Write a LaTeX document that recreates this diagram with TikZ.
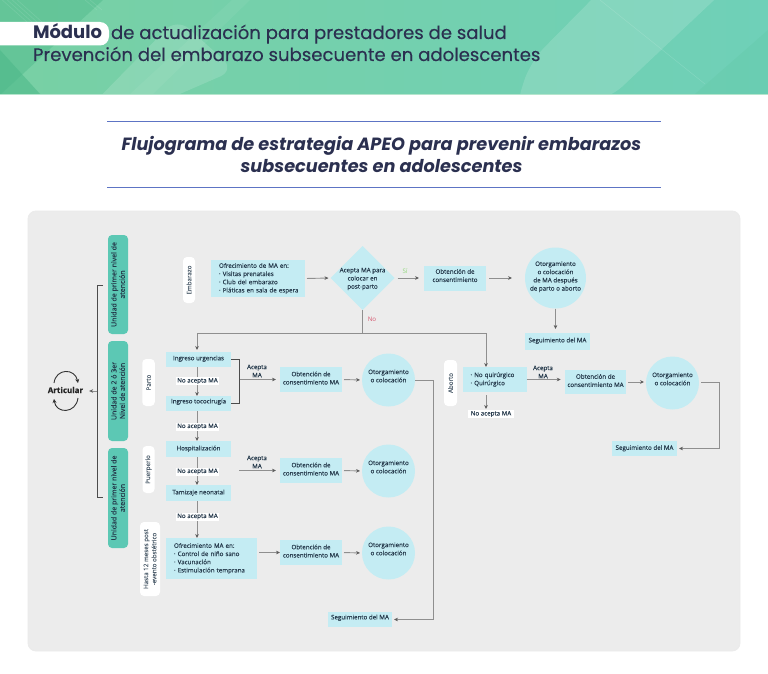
\documentclass[tikz,border=0pt]{standalone}
\usepackage{fontspec}
\setmainfont[FakeBold=0.12]{Open Sans}
\newfontfamily\pop{Poppins}
\newfontfamily\popm[FakeBold=0.25]{Poppins}
\newfontfamily\reg{Open Sans}
\usetikzlibrary{shapes.geometric,arrows.meta,calc}
\definecolor{ink}{HTML}{2B3050}
\definecolor{txt}{HTML}{24384A}
\definecolor{cya}{HTML}{C4ECF3}
\definecolor{tealb}{HTML}{5CC8B4}
\definecolor{panel}{HTML}{ECECEC}
\definecolor{rule}{HTML}{5D74C4}
\definecolor{ln}{HTML}{8F8F8F}
\definecolor{hdl}{HTML}{78D0A4}
\definecolor{hdr}{HTML}{6FD0B8}
\definecolor{hdk}{HTML}{4DB98A}
\definecolor{sicol}{HTML}{8FD87A}
\definecolor{nocol}{HTML}{D4566E}
\tikzset{
 every node/.style={inner sep=0pt,outer sep=0pt,text=txt,align=center,font=\fontsize{6.2}{8.2}\selectfont},
 bx/.style={fill=cya,minimum width=#1},
 bl/.style={fill=cya,align=left,text width=#1,inner xsep=8pt},
 circ/.style={circle,fill=cya,minimum size=#1},
 lab/.style={fill=white,minimum height=8pt,minimum width=#1},
 bar/.style={rotate=90,fill=tealb,rounded corners=4pt,minimum width=#1,minimum height=20pt,font=\fontsize{7}{8.4}\selectfont},
 pill/.style={rotate=90,fill=white,rounded corners=4pt,minimum width=#1,text=txt!80},
 arr/.style={draw=ln,line width=.9pt,-{Stealth[length=4pt,width=3.6pt,color=ln!65!black]}},
 lin/.style={draw=ln,line width=.9pt},
 brk/.style={draw=black!70,line width=.8pt},
 band/.style={fill=white,opacity=.14},
}
\begin{document}
\begin{tikzpicture}[x=1pt,y=-1pt]
\useasboundingbox (0,0) rectangle (768,674);
\fill[white] (0,0) rectangle (768,674);
% header
\begin{scope}
\clip (0,0) rectangle (768,94);
\shade[left color=hdl,right color=hdr] (0,0) rectangle (768,94);
\fill[hdk,opacity=.45] (0,0) -- (103,0) -- (0,95) -- cycle;
\fill[hdk,opacity=.6] (0,50) -- (40,94) -- (0,94) -- cycle;
\foreach \d in {0,5,10,15}{\draw[white,opacity=.1,line width=.7pt] (\d,-2) -- (\d+45,38);}
\foreach \d in {85,90}{\draw[white,opacity=.1,line width=.7pt] (\d,0) -- (\d+12,10);}
\fill[band,rounded corners=16pt] (87,110) -- (177,18) -- (235,70) -- (143,110) -- cycle;
\fill[white,opacity=.05] (130,94) -- (232,0) -- (250,0) -- (153,94) -- cycle;
\fill[band,rounded corners=20pt] (515,110) -- (530,62) -- (606,-15) -- (730,-15) -- (608,100) -- cycle;
\draw[white,opacity=.12,line width=.6pt] (600,0) -- (705,84);
\fill[hdk,opacity=.12] (695,94) -- (768,30) -- (768,94) -- cycle;
\end{scope}
\fill[hdl!55!white] (0,94) rectangle (768,95);
\fill[white,rounded corners=9pt] (-20,22) rectangle (109,45.5);
\node[anchor=base west,text=ink,font=\pop\fontsize{18}{22}\selectfont\bfseries] (modu) at (33,39) {Módulo};
\node[anchor=base west,text=ink,font=\popm\fontsize{18.1}{22}\selectfont] (modt) at (111,39) {de actualización para prestadores de salud};
\node[anchor=base west,text=ink,font=\popm\fontsize{18.1}{22}\selectfont] (modl) at (33,61) {Prevención del embarazo subsecuente en adolescentes};
% title
\draw[rule,line width=.8pt] (107,121.5) -- (661,121.5);
\draw[rule,line width=.8pt] (107,187.5) -- (661,187.5);
\node[text=ink,font=\pop\fontsize{17.7}{22}\selectfont\bfseries\itshape] (tit) at (381.5,154) {Flujograma de estrategia APEO para prevenir embarazos\\subsecuentes en adolescentes};
% panel
\fill[panel,draw=black!8,line width=.8pt,rounded corners=8pt] (28,211) rectangle (740,651);
% bars
\node[bar=99] (b1) at (118,284.5) {Unidad de primer nivel de\\atención};
\node[bar=100] (b2) at (118,391) {Unidad de 2 ó 3er\\Nivel de atención};
\node[bar=100] (b3) at (118,498) {Unidad de primer nivel de\\atención};
% articular
\node[font=\fontsize{8}{10}\selectfont\bfseries,text=black!85] (art) at (65.5,390) {Articular};
\draw[draw=black!80,line width=.9pt,-{Stealth[length=4pt,width=4pt]}] (54,383) .. controls (56,368) and (75,368) .. (78,383);
\draw[draw=black!80,line width=.9pt,-{Stealth[length=4pt,width=4pt]}] (78,398) .. controls (76,414) and (56,414) .. (54,399);
\coordinate (brt) at (103,285);
\coordinate (brb) at (103,497);
\coordinate (brm) at (97,391);
\draw[brk] (brt) -- (97,285) -- (97,497) -- (brb);
\draw[arr,shorten >=6pt] (brm) -- (art.east |- brm);
% pills
\node[pill=46,minimum height=12pt] (pe) at (189,280) {Embarazo};
\node[pill=47,minimum height=12.5pt] (pp) at (148.5,382.5) {Parto};
\node[pill=47,minimum height=12pt] (pq) at (148.5,469.5) {Puerperio};
\node[pill=74,minimum height=20pt] (ph) at (150,559) {Hasta 12 meses post\\-evento obstétrico};
\node[pill=46,minimum height=13pt] (pa) at (450.5,383) {Aborto};
% top row
\node[bl=78pt,minimum height=37pt] (of1) at (258,278.5) {Ofrecimiento de MA en:\\· Visitas prenatales\\· Club del embarazo\\\mbox{· Pláticas en sala de espera}\\[-5.2pt]};
\node[diamond,fill=cya,minimum width=64pt,minimum height=64pt] (dia) at (362.5,278) {};
\node at ($(dia.center)+(0,1)$) {Acepta MA para\\colocar en\\post-parto};
\node[bx=62,minimum height=25pt] (ob0) at (455,278) {Obtención de\\consentimiento\\[-3.2pt]};
\node[circ=61] (ci0) at (555.5,278) {Otorgamiento\\o colocación\\de MA después\\de parto o aborto\\[-4.2pt]};
\node[bx=65,minimum height=17pt] (se0) at (557.5,341.5) {Seguimiento del MA\\[-5.2pt]};
\draw[arr,shorten <=2pt,shorten >=2pt] (of1.east) -- (dia.west);
\draw[arr,shorten <=3pt,shorten >=5pt] (dia.east) -- (ob0.west);
\draw[arr,shorten <=3pt,shorten >=13pt] (ob0.east) -- (ci0.west);
\draw[arr,shorten >=4pt] (ci0.south) -- (ci0.south |- se0.north);
\node[text=sicol,font=\reg\fontsize{6.2}{8}\selectfont] (si) at (405,271) {Sí};
\node[text=nocol,font=\reg\fontsize{6.2}{8}\selectfont] (no) at (372,319) {No};
% Parto
\node[bx=65,minimum height=15.5pt] (iu) at (198.5,359.5) {Ingreso urgencias\\[-5.2pt]};
\node[bx=65,minimum height=15pt] (it) at (198.5,403.5) {Ingreso tococirugía\\[-3.2pt]};
\node[bx=65,minimum height=16pt] (ho) at (198.5,449) {Hospitalización\\[-6.2pt]};
\node[bx=65,minimum height=16pt] (ta) at (198.5,493) {Tamizaje neonatal\\[-6.2pt]};
\node[bl=75pt,minimum height=41pt] (of2) at (211.5,558.5) {Ofrecimiento MA en:\\· Control de niño sano\\· Vacunación\\· Estimulación temprana\\[-0.6pt]};
\coordinate (jn) at (197,333);
\coordinate (jr) at (486,333);
\draw[lin] (dia.south) -- (362.5,333);
\draw[arr] (jn) -- (197,350);
\draw[lin] (jn) -- (jr);
\draw[arr] ($(iu.south)+(-1.5,0)$) -- ($(it.north)+(-1.5,0)$);
\draw[arr] ($(it.south)+(-1.5,0)$) -- ($(ho.north)+(-1.5,0)$);
\draw[arr] ($(ho.south)+(-1.5,0)$) -- ($(ta.north)+(-1.5,0)$);
\draw[arr] ($(ta.south)+(-1.5,0)$) -- (197,538);
\node[lab=43] (n1) at (197.5,381) {No acepta MA};
\node[lab=43] (n2) at (197.5,426.5) {No acepta MA};
\node[lab=43] (n3) at (197.5,471.5) {No acepta MA};
\node[lab=43] (n4) at (197.5,516.5) {No acepta MA};
% row 1
\node[bx=62,minimum height=25pt] (ob1) at (311,379.5) {Obtención de\\consentimiento MA\\[-5.2pt]};
\node[circ=53] (ci1) at (388.5,380) {Otorgamiento\\o colocación\\[0pt]};
\coordinate (bm) at (239.5,379.5);
\draw[brk] (iu.east) -- (239.5,359.5) -- (239.5,403.5) -- (it.east);
\draw[arr,shorten >=4pt] (bm) -- (ob1.west);
\node (ac1) at (257,371) {Acepta\\MA};
\draw[arr,shorten <=2pt,shorten >=2pt] (ob1.east) -- (ci1.west);
% row 2
\node[bx=62,minimum height=25pt] (ob2) at (311,470.5) {Obtención de\\consentimiento MA\\[-5.2pt]};
\node[circ=53] (ci2) at (388.5,471) {Otorgamiento\\o colocación\\[0pt]};
\coordinate (a2) at (239,470.5);
\draw[arr,shorten >=4pt] (a2) -- (ob2.west);
\node (ac2) at (257,462) {Acepta\\MA};
\draw[arr,shorten <=2pt,shorten >=2pt] (ob2.east) -- (ci2.west);
% row 3
\node[bx=62,minimum height=25pt] (ob3) at (311,552.5) {Obtención de\\consentimiento MA\\[-5.2pt]};
\node[circ=53] (ci3) at (388.5,553) {Otorgamiento\\o colocación\\[0pt]};
\draw[arr,shorten <=2pt,shorten >=0pt] (of2.east |- ob3.west) -- (ob3.west);
\draw[arr,shorten <=2pt,shorten >=2pt] (ob3.east) -- (ci3.west);
\node[bx=64,minimum height=15pt] (se1) at (360,619.5) {Seguimiento del MA\\[-3.2pt]};
\draw[arr,shorten >=2pt] (ci1.east) -- (433,380) -- (433,619.5) -- (se1.east);
% aborto
\node[bl=48pt,minimum height=25pt] (abx) at (494.5,379.5) {· No quirúrgico\\· Quirúrgico\\[-4.2pt]};
\draw[arr] (jr) -- (abx.north -| jr);
\coordinate (no5) at (486,409);
\draw[arr,shorten <=3pt] (abx.south -| jr) -- (no5);
\node[lab=46] (n5) at (491,414) {No acepta MA};
\node[bx=61.5,minimum height=24pt] (ob4) at (595.5,382) {Obtención de\\consentimiento MA\\[-5.2pt]};
\node[circ=53] (ci4) at (672.5,383) {Otorgamiento\\o colocación\\[0pt]};
\draw[arr,shorten >=4pt] (abx.east) -- (ob4.west |- abx.east);
\node (ac4) at (543,372) {Acepta\\MA};
\draw[arr,shorten <=2pt,shorten >=2pt] (ob4.east) -- (ci4.west |- ob4.east);
\node[bx=65,minimum height=15pt] (se2) at (644.5,448.5) {Seguimiento del MA\\[-6.2pt]};
\draw[arr,shorten <=2pt,shorten >=2pt] (ci4.east |- 0,382) -- (719,382) -- (719,448.5) -- (se2.east);
\end{tikzpicture}
\end{document}
